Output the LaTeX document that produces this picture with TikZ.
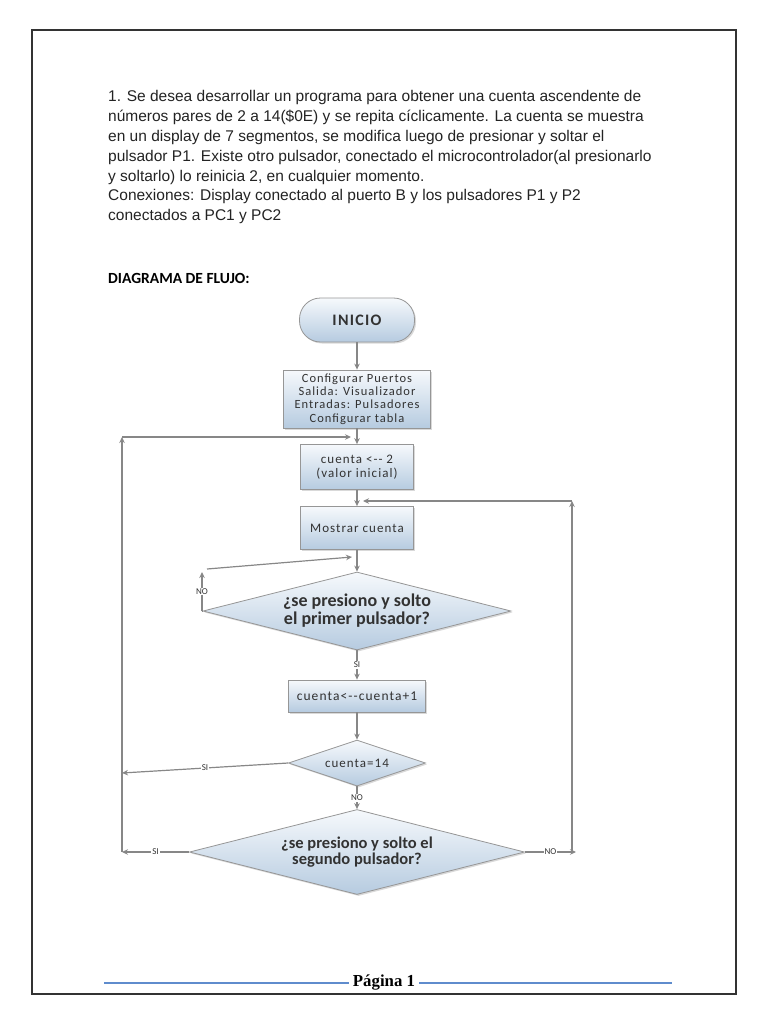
\documentclass[tikz,border=0pt]{standalone}
\usepackage{fontspec}
\setmainfont{Liberation Sans}
\newfontfamily\calfont{Carlito}
\newfontfamily\calwide[LetterSpace=8]{Carlito}
\newfontfamily\pagefont{Liberation Serif}
\usepackage{tikz}
\usetikzlibrary{shapes.geometric,shadows,arrows.meta}
\definecolor{lineGray}{RGB}{135,135,135}
\definecolor{boxEdge}{RGB}{150,150,150}
\definecolor{boxTop}{RGB}{246,249,252}
\definecolor{boxBlue}{RGB}{182,203,224}
\definecolor{flowText}{RGB}{50,50,50}
\definecolor{bodyText}{RGB}{35,35,35}
\definecolor{footBlue}{RGB}{95,140,205}

\begin{document}
\begin{tikzpicture}[x=1pt,y=-1pt,>={Stealth[length=6pt,width=5.5pt]},
  flowbox/.style={draw=boxEdge, line width=0.8pt, top color=boxTop, bottom color=boxBlue,
    drop shadow={opacity=0.3,shadow xshift=1.5pt,shadow yshift=-1.5pt},
    text=flowText, align=center, inner sep=2pt},
  procbox/.style={flowbox, rectangle, font=\calwide\fontsize{12.5}{13.3}\selectfont},
  termbox/.style={flowbox, rectangle, rounded corners=21pt, font=\calwide\bfseries\fontsize{16}{17}\selectfont},
  decbox/.style={flowbox, diamond, aspect=4, inner sep=0pt, font=\calfont\bfseries\fontsize{16.5}{16.5}\selectfont},
  conn/.style={draw=lineGray, line width=1.2pt},
  tag/.style={fill=white, inner sep=1pt, text=flowText, font=\calfont\fontsize{9}{9}\selectfont}]
\useasboundingbox (0,0) rectangle (768,1024);
\draw[line width=1.6pt, draw=black!80] (32,30) rectangle (736,994);

\node[anchor=north west, inner sep=0pt, align=left, text=bodyText,
  font=\fontsize{15.5}{19.9}\selectfont] (task) at (108,90)
  {1. Se desea desarrollar un programa para obtener una cuenta ascendente de\\
   números pares de 2 a 14(\$0E) y se repita cíclicamente. La cuenta se muestra\\
   en un display de 7 segmentos, se modifica luego de presionar y soltar el\\
   pulsador P1. Existe otro pulsador, conectado el microcontrolador(al presionarlo\\
   y soltarlo) lo reinicia 2, en cualquier momento.\\
   Conexiones: Display conectado al puerto B y los pulsadores P1 y P2\\
   conectados a PC1 y PC2};
\node[anchor=west, inner sep=0pt, font=\calfont\bfseries\fontsize{15.5}{17}\selectfont] (title) at (108,278) {DIAGRAMA DE FLUJO:};

\node[termbox, minimum width=115pt, minimum height=44pt] (inicio) at (357,320) {INICIO};
\node[procbox, minimum width=147pt, minimum height=58pt] (cfg) at (357,399)
  {Configurar Puertos\\Salida: Visualizador\\Entradas: Pulsadores\\Configurar tabla};
\node[procbox, minimum width=113pt, minimum height=45pt, font=\calwide\fontsize{13}{13.5}\selectfont] (ini) at (357,467) {cuenta <-- 2\\(valor inicial)};
\node[procbox, minimum width=113pt, minimum height=43pt, font=\calwide\fontsize{13}{14}\selectfont] (show) at (357,528) {Mostrar cuenta};
\node[decbox, minimum width=308pt, minimum height=78pt, font=\calfont\bfseries\fontsize{18}{18}\selectfont] (dec1) at (357,611) {¿se presiono y solto\\el primer pulsador?};
\node[procbox, minimum width=137pt, minimum height=32pt, font=\calwide\fontsize{13.5}{14}\selectfont] (inc) at (357,696) {cuenta<--cuenta+1};
\node[decbox, aspect=3, minimum width=137pt, minimum height=46pt, font=\calwide\fontsize{13}{14}\selectfont] (dec2) at (357,763) {cuenta=14};
\node[decbox, minimum width=335pt, minimum height=85pt] (dec3) at (357,852) {¿se presiono y solto el\\segundo pulsador?};

\coordinate (leftMid) at (122,773);
\coordinate (leftBot) at (122,852);
\coordinate (leftTop) at (122,437);
\coordinate (joinTop) at (351,437);
\coordinate (rightBot) at (576,852);
\coordinate (rightFoot) at (572,852);
\coordinate (rightTop) at (572,501);
\coordinate (joinMid) at (363,501);
\coordinate (noFoot) at (202,611);
\coordinate (noTop) at (202,572);
\coordinate (noStart) at (207,569);
\coordinate (noEnd) at (352,557);

\draw[conn,->] (inicio) -- (cfg);
\draw[conn,->] (cfg) -- (ini);
\draw[conn,->] (ini) -- (show);
\draw[conn,->] (show) -- (dec1);
\draw[conn,->] (dec1) -- node[tag] {SI} (inc);
\draw[conn,->] (inc) -- (dec2);
\draw[conn,->] (dec2) -- node[tag] {NO} (dec3);

\draw[conn] (dec1.west) -- (noFoot);
\draw[conn,->] (noFoot) -- node[tag] {NO} (noTop);
\draw[conn,->] (noStart) -- (noEnd);

\draw[conn,->] (dec2.west) -- node[tag] {SI} (leftMid);
\draw[conn,->] (dec3.west) -- node[tag] {SI} (leftBot);
\draw[conn,->] (leftBot) -- (leftTop);
\draw[conn,->] (leftTop) -- (joinTop);

\draw[conn,->] (dec3.east) -- node[tag] {NO} (rightBot);
\draw[conn,->] (rightFoot) -- (rightTop);
\draw[conn,->] (rightTop) -- (joinMid);

\node[font=\pagefont\bfseries\fontsize{16.8}{18}\selectfont, inner sep=4pt] (pagina) at (384,983) {Página 1};
\draw[footBlue, line width=1.1pt] (pagina.west) -- (104,983);
\draw[footBlue, line width=1.1pt] (pagina.east) -- (672,983);
\end{tikzpicture}
\end{document}
